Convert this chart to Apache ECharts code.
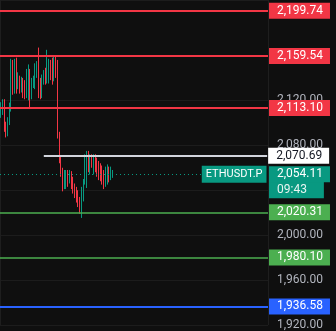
<!DOCTYPE html>
<html>
<head>
<meta charset="utf-8">
<script src="https://cdn.jsdelivr.net/npm/echarts@6/dist/echarts.min.js"></script>
<style>
  html, body { margin: 0; padding: 0; background: #0f0f0f; }
  #chart { width: 336px; height: 331px; }
</style>
</head>
<body>
<div id="chart"></div>
<script>
// ETHUSDT.P perpetual, short intraday window
const opens  = [2108,2111,2118,2097,2090,2101,2113,2148,2130,2154,2133,2140,2130,2138,2127,2124,2142,2147,2122,2136,2136,2145,2151,2128,2124,2137,2144,2137,2140,2153,2140,2138,2157,2154,2088,2068,2058,2045,2043,2057,2048,2055,2050,2045,2040,2035,2032,2022,2035,2047,2050,2073,2058,2070,2060,2070,2065,2062,2060,2058,2054,2046,2048,2058,2050,2053];
const closes = [2115,2119,2097,2089,2101,2114,2148,2130,2155,2133,2140,2130,2138,2126,2124,2143,2147,2122,2137,2140,2150,2152,2126,2124,2140,2143,2136,2162,2154,2140,2138,2158,2152,2088,2066,2054,2040,2055,2057,2046,2056,2043,2039,2034,2030,2026,2021,2037,2048,2070,2072,2058,2070,2062,2071,2060,2055,2053,2050,2047,2045,2056,2060,2049,2057,2054.11];
const lows   = [2104.4,2107,2092,2087,2088,2098,2110,2125,2126,2126,2130,2126,2127,2122,2121,2122,2120,2113,2121,2131,2130,2140,2122,2121,2122,2134,2134,2135,2135,2138,2134,2137,2140,2086,2064,2052,2039,2041,2041,2043,2046,2041,2037,2033,2029,2025,2019,2015.3,2030,2045,2042,2056,2054,2060,2054,2056,2052,2049,2048,2045,2041,2043,2045,2047,2049,2051];
const highs  = [2118.4,2121,2121,2101,2105,2118,2157,2156,2157,2158,2145,2142,2141,2140,2138,2148,2152,2148,2140,2142,2153,2155,2167,2140,2143,2147,2149,2165,2157,2156,2158,2160,2159,2156,2092,2071,2060,2058,2058,2058,2058,2057,2052,2046,2043,2040,2034,2043,2050,2072,2075,2075,2072,2072,2072,2072,2069,2066,2064,2062,2058,2061,2063,2061,2061,2058];

// Horizontal levels drawn across the pane
const resistanceLevels = [2199.74, 2159.54, 2113.10];
const supportLevels = [2020.31, 1980.10];
const deepSupport = 1936.58;
const rayLevel = 2070.69;
const rayStartIndex = 25;
const lastPrice = 2054.11;
const symbolName = 'ETHUSDT.P';
const barCountdown = '09:43';

// Price axis range and tick step
const yMin = 1920;
const yMax = 2209.36;
const yStep = 40;
const slotCount = 156; // visible bar slots, including empty space to the right

const UP = '#089981';
const DOWN = '#f23645';
const GREEN = '#4caf50';
const BLUE = '#2962ff';
const FONT = 'Roboto, "Liberation Sans", sans-serif';
const HIDDEN_LINE = { color: 'rgba(0,0,0,0)', width: 0 };

function fmt(v) {
  return v.toFixed(2).replace(/\B(?=(\d{3})+(?!\d))/g, ',');
}

const categories = [];
for (let i = 0; i < slotCount; i++) categories.push(String(i));

const candles = opens.map((o, i) => [o, closes[i], lows[i], highs[i]]);

function priceTag(bg, fg) {
  return {
    show: true,
    position: 'end',
    distance: 1,
    formatter: p => fmt(p.value),
    backgroundColor: bg,
    color: fg,
    fontFamily: FONT,
    fontSize: 12,
    lineHeight: 13,
    padding: [2, 7, 1, 8]
  };
}

const markData = [];
resistanceLevels.forEach(v => markData.push({
  yAxis: v, lineStyle: { color: DOWN, width: 2, type: 'solid' }, label: priceTag(DOWN, '#ffffff')
}));
supportLevels.forEach(v => markData.push({
  yAxis: v, lineStyle: { color: GREEN, width: 1.5, type: 'solid' }, label: priceTag(GREEN, '#ffffff')
}));
markData.push({
  yAxis: deepSupport, lineStyle: { color: BLUE, width: 2, type: 'solid' }, label: priceTag(BLUE, '#ffffff')
});
// Ray from a bar to the right edge
markData.push([
  { coord: [categories[rayStartIndex], rayLevel], lineStyle: { color: '#d1d4dc', width: 2, type: 'solid' },
    label: Object.assign(priceTag('#ffffff', '#131722'), { formatter: fmt(rayLevel) }) },
  { coord: [categories[slotCount - 1], rayLevel] }
]);
// Countdown box under the last price tag
markData.push({
  yAxis: lastPrice, lineStyle: HIDDEN_LINE,
  label: {
    show: true, position: 'end', distance: 1, formatter: barCountdown,
    verticalAlign: 'top', align: 'left',
    backgroundColor: UP, color: '#e8f5f2', fontFamily: FONT, fontSize: 12, lineHeight: 13,
    padding: [9, 17, 2, 8]
  }
});
// Last price line with symbol tag
markData.push({
  yAxis: lastPrice, lineStyle: { color: UP, width: 1, type: [1, 3] },
  label: {
    show: true, position: 'insideEnd', distance: 1.5, formatter: symbolName,
    backgroundColor: UP, color: '#ffffff', fontFamily: FONT, fontSize: 11, lineHeight: 12,
    padding: [3, 4, 2, 4]
  }
});
markData.push({
  yAxis: lastPrice, lineStyle: HIDDEN_LINE, label: priceTag(UP, '#ffffff')
});

const chart = echarts.init(document.getElementById('chart'), null, { renderer: 'canvas' });
chart.setOption({
  backgroundColor: '#0f0f0f',
  animation: false,
  grid: { left: 0, right: 68, top: 0, bottom: 0 },
  xAxis: {
    type: 'category',
    data: categories,
    boundaryGap: true,
    axisLine: { show: false },
    axisTick: { show: false },
    axisLabel: { show: false },
    splitLine: {
      show: true,
      interval: (index) => index === 51,
      lineStyle: { color: '#1e1e1e', width: 1 }
    }
  },
  yAxis: {
    type: 'value',
    position: 'right',
    min: yMin,
    max: yMax,
    interval: yStep,
    axisLine: { show: false },
    axisTick: { show: false },
    axisLabel: {
      color: '#b2b5be',
      fontFamily: FONT,
      fontSize: 12,
      margin: 9,
      showMaxLabel: false,
      formatter: v => fmt(v)
    },
    splitLine: { show: true, lineStyle: { color: '#1c1c1c', width: 1 } }
  },
  series: [{
    type: 'candlestick',
    data: candles,
    barWidth: 1,
    itemStyle: { color: UP, color0: DOWN, borderColor: UP, borderColor0: DOWN, borderWidth: 1 },
    markLine: {
      silent: true,
      symbol: ['none', 'none'],
      animation: false,
      data: markData
    }
  }]
});
</script>
</body>
</html>
